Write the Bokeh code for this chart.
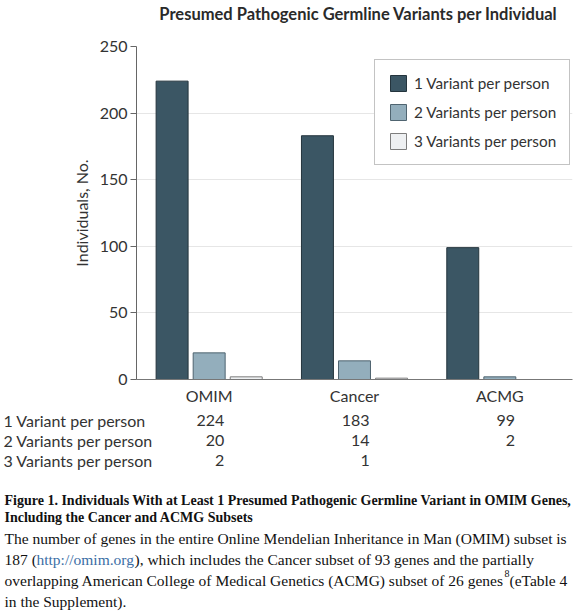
from bokeh.plotting import figure
from bokeh.layouts import column
from bokeh.models import (ColumnDataSource, FactorRange, Range1d, Label, LabelSet, Legend,
                          LegendItem, FixedTicker)
from bokeh.transform import dodge
from bokeh.embed import file_html
from bokeh.resources import INLINE
from bokeh.core.properties import value

# ---------------- data ----------------
categories = ["OMIM", "Cancer", "ACMG"]
one_variant = [224, 183, 99]
two_variants = [20, 14, 2]
three_variants = [2, 1, None]
series_labels = ["1 Variant per person", "2 Variants per person", "3 Variants per person"]
y_ticks = [0, 50, 100, 150, 200, 250]

title_text = "Presumed Pathogenic Germline Variants per Individual"
y_label = "Individuals, No."
caption_bold = ["Figure 1. Individuals With at Least 1 Presumed Pathogenic Germline Variant in OMIM Genes,",
                "Including the Cancer and ACMG Subsets"]

# ---------------- styling ----------------
FONT = "Lato"
SERIF = "Liberation Serif"
TXT = "#333333"
fills = ["#3b5664", "#93aebc", "#eef0f2"]
lines = ["#24343d", "#4f6470", "#7d7d7d"]
W = 584

def nz(v):
    return float("nan") if v is None else v

def bare(fig):
    fig.outline_line_color = None
    fig.axis.visible = False
    fig.grid.visible = False

series = [one_variant, two_variants, three_variants]
src = ColumnDataSource(dict(
    cat=categories,
    s0=[nz(v) for v in one_variant],
    s1=[nz(v) for v in two_variants],
    s2=[nz(v) for v in three_variants],
))

# ================= title strip =================
TH = 30
h = figure(width=W, height=TH, x_range=Range1d(0, W), y_range=Range1d(0, TH),
           output_backend="svg", toolbar_location=None, frame_align=False,
           min_border_left=0, min_border_right=0, min_border_top=0, min_border_bottom=0)
bare(h)
h.add_layout(Label(x=358, y=TH - 13, x_units="screen", y_units="screen", text=title_text,
                   text_align="center", text_baseline="middle", text_font=FONT,
                   text_font_size="16.5px", text_font_style="bold", text_color="#2a2a2a"))

# ================= main chart =================
PB = 30
PH = 379 + PB - TH
p = figure(width=W, height=PH, x_range=FactorRange(*categories, range_padding=0),
           y_range=Range1d(0, 250), output_backend="svg", toolbar_location=None, frame_align=False,
           min_border_left=136, min_border_right=12, min_border_top=46 - TH, min_border_bottom=PB)
p.outline_line_color = None

offsets = [-0.255, 0.0, 0.255]
renderers = []
for i in range(3):
    r = p.vbar(x=dodge("cat", offsets[i], range=p.x_range), top="s%d" % i, bottom=0, width=0.22,
               source=src, fill_color=fills[i], line_color=lines[i], line_width=1)
    renderers.append(r)

legend = Legend(items=[LegendItem(label=series_labels[i], renderers=[renderers[i]]) for i in range(3)],
                location=(238, 214), glyph_width=20, glyph_height=20, spacing=9, padding=13,
                label_standoff=6, label_text_font=FONT, label_text_font_size="15.3px",
                label_text_color=TXT, border_line_color="#888888", border_line_width=1.3,
                background_fill_alpha=1, margin=0)
p.add_layout(legend)

yax = p.yaxis[0]
yax.ticker = FixedTicker(ticks=y_ticks)
yax.minor_tick_line_color = None
yax.major_tick_out = 6
yax.major_tick_in = 0
yax.axis_line_color = "#666666"
yax.major_tick_line_color = "#666666"
yax.major_label_text_font = FONT
yax.major_label_text_font_size = "16px"
yax.major_label_text_color = TXT
yax.major_label_standoff = 3
yax.axis_label = y_label
yax.axis_label_text_font = FONT
yax.axis_label_text_font_size = "16px"
yax.axis_label_text_font_style = "normal"
yax.axis_label_text_color = TXT
yax.axis_label_standoff = 6

xax = p.xaxis[0]
xax.axis_line_color = "#777777"
xax.major_tick_line_color = None
xax.minor_tick_line_color = None
xax.major_label_text_font = FONT
xax.major_label_text_font_size = "16px"
xax.major_label_text_color = TXT
xax.major_label_standoff = 0

p.xgrid.grid_line_color = None
p.ygrid.grid_line_color = "#e6e6e6"
p.ygrid.ticker = FixedTicker(ticks=y_ticks)

# ================= data table =================
# leading factor holds the row-label column; factor padding aligns category centres with the chart
table_factors = ["rows"] + categories
TBH = 65
t = figure(width=W, height=TBH, x_range=FactorRange(*table_factors, factor_padding=0.144, range_padding=0),
           y_range=Range1d(0, TBH), output_backend="svg", toolbar_location=None, frame_align=False,
           min_border_left=0, min_border_right=21, min_border_top=0, min_border_bottom=0)
bare(t)
row_y = [TBH - 11, TBH - 31, TBH - 51]
for i in range(3):
    t.add_layout(Label(x=3, y=row_y[i], x_units="screen", y_units="screen", text=series_labels[i],
                       text_align="left", text_baseline="middle", text_font=FONT,
                       text_font_size="16px", text_color=TXT))
    tsrc = ColumnDataSource(dict(cat=categories,
                                 txt=["" if v is None else str(v) for v in series[i]]))
    t.add_layout(LabelSet(x="cat", y=row_y[i], y_units="screen", text="txt", source=tsrc,
                          x_offset=15, text_align="right", text_baseline="middle",
                          text_font=value(FONT), text_font_size="16px", text_color=TXT))

# ================= caption =================
top0 = 379 + PB + TBH
CH = 611 - top0
c = figure(width=W, height=CH, x_range=Range1d(0, W), y_range=Range1d(0, CH),
           output_backend="svg", toolbar_location=None, frame_align=False,
           min_border_left=0, min_border_right=0, min_border_top=0, min_border_bottom=0)
bare(c)

def cap(x, y, t_, color="#111111", size="15.5px", style="normal"):
    c.add_layout(Label(x=x, y=CH - (y - top0), x_units="screen", y_units="screen", text=t_,
                       text_baseline="middle", text_font=SERIF, text_font_size=size,
                       text_font_style=style, text_color=color))

cap(4, 500, caption_bold[0], size="14px", style="bold")
cap(4, 517, caption_bold[1], size="14px", style="bold")
cap(4, 538, "The number of genes in the entire Online Mendelian Inheritance in Man (OMIM) subset is")
cap(4, 559, "187 (")
cap(36, 559, "http://omim.org", color="#3b6ea5")
cap(134, 559, "), which includes the Cancer subset of 93 genes and the partially")
cap(4, 580, "overlapping American College of Medical Genetics (ACMG) subset of 26 genes")
cap(504, 573, "8", size="10px")
cap(509, 580, " (eTable 4")
cap(4, 601, "in the Supplement).")

layout = column(h, p, t, c, spacing=0)
open("out.html", "w").write(file_html(layout, INLINE))
